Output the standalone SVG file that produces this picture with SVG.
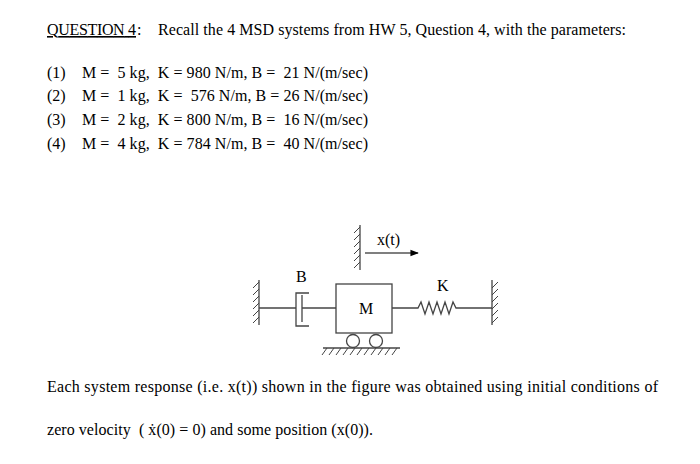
<svg xmlns="http://www.w3.org/2000/svg" width="700" height="464" viewBox="0 0 700 464">
<style>
text{font-family:"Liberation Serif","Times New Roman",serif;font-size:16px;fill:#000;white-space:pre}
.l{stroke:#444;stroke-width:1.3;fill:none}
.h{stroke:#444;stroke-width:1;fill:none}
</style>
<defs>
<marker id="ah" viewBox="0 0 10 10" refX="9" refY="5" markerWidth="7" markerHeight="7" orient="auto"><path d="M0,1 L10,5 L0,9z" fill="#000"/></marker>
</defs>
<rect width="700" height="464" fill="#fff"/>
<g id="texts">
<text x="47" y="35" text-decoration="underline" textLength="89">QUESTION 4</text><text x="137" y="35">:</text>
<text x="158" y="35" textLength="468" lengthAdjust="spacing">Recall the 4 MSD systems from HW 5, Question 4, with the parameters:</text>
<text x="47" y="78">(1)</text><text x="82" y="78" textLength="286" lengthAdjust="spacing">M =  5 kg,  K = 980 N/m, B =  21 N/(m/sec)</text>
<text x="47" y="101">(2)</text><text x="82" y="101" textLength="286" lengthAdjust="spacing">M =  1 kg,  K =  576 N/m, B = 26 N/(m/sec)</text>
<text x="47" y="125">(3)</text><text x="82" y="125" textLength="286" lengthAdjust="spacing">M =  2 kg,  K = 800 N/m, B =  16 N/(m/sec)</text>
<text x="47" y="149">(4)</text><text x="82" y="149" textLength="286" lengthAdjust="spacing">M =  4 kg,  K = 784 N/m, B =  40 N/(m/sec)</text>
<text x="47" y="392" textLength="611" lengthAdjust="spacing">Each system response (i.e. x(t)) shown in the figure was obtained using initial conditions of</text>
<text x="47" y="435" textLength="326" lengthAdjust="spacing">zero velocity  ( ẋ(0) = 0) and some position (x(0)).</text>
</g>
<g id="walls">
<line x1="259" y1="280" x2="259" y2="325" class="l"/>
<path d="M259,282 l-6,6 M259,289 l-6,6 M259,296 l-6,6 M259,303 l-6,6 M259,310 l-6,6 M259,317 l-6,6" class="h"/>
<line x1="492" y1="280" x2="492" y2="325" class="l"/>
<path d="M492,288 l6,-6 M492,295 l6,-6 M492,302 l6,-6 M492,309 l6,-6 M492,316 l6,-6 M492,323 l6,-6" class="h"/>
<line x1="360" y1="225" x2="360" y2="270" class="l"/>
<path d="M360,227 l-6,6 M360,234 l-6,6 M360,241 l-6,6 M360,248 l-6,6 M360,255 l-6,6 M360,262 l-6,6" class="h"/>
<line x1="323" y1="348" x2="400" y2="348" class="l"/>
<path d="M327,348 l-5,7 M334,348 l-5,7 M341,348 l-5,7 M348,348 l-5,7 M355,348 l-5,7 M362,348 l-5,7 M369,348 l-5,7 M376,348 l-5,7 M383,348 l-5,7 M390,348 l-5,7 M397,348 l-5,7" class="h"/>
</g>
<g id="damper">
<line x1="259" y1="308" x2="296" y2="308" class="l"/>
<path d="M309,293 H296 V326 H309" class="l"/>
<line x1="302" y1="295" x2="302" y2="322" class="l"/>
<line x1="302" y1="308" x2="336" y2="308" class="l"/>
<text x="296" y="282">B</text>
</g>
<g id="mass">
<rect x="336" y="284" width="56" height="49" class="l"/>
<text x="359" y="314">M</text>
<circle cx="353" cy="341" r="6.5" class="l"/>
<circle cx="376" cy="341" r="6.5" class="l"/>
</g>
<g id="spring">
<path d="M392,308 H418 l3,-6 l4,12 l4,-12 l4,12 l4,-12 l4,12 l4,-12 l4,12 l4,-12 l3,6 H492" class="l"/>
<text x="437" y="291">K</text>
</g>
<g id="connectors">
<line x1="365" y1="253" x2="418" y2="253" stroke="#000" stroke-width="1.2" marker-end="url(#ah)"/>
<text x="377" y="245" font-size="14">x(t)</text>
</g>
</svg>
